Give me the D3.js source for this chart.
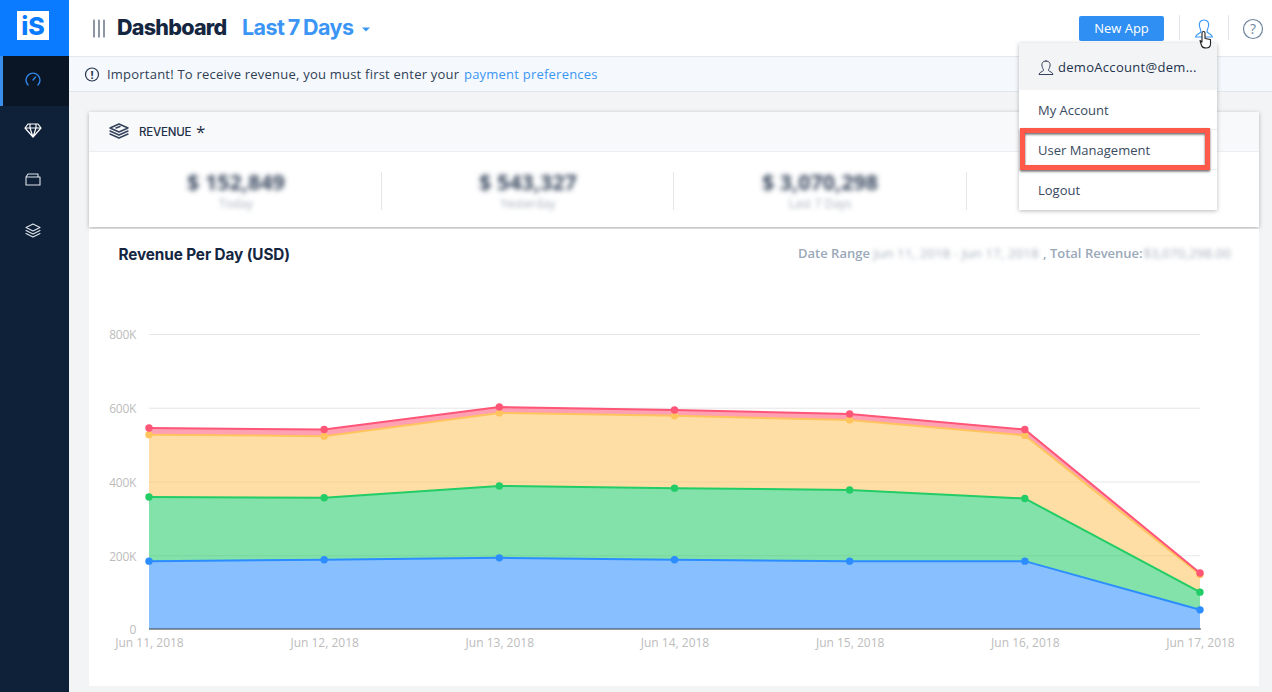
<!DOCTYPE html>
<html>

<head>
  <meta charset="UTF-8">
  <title>Dashboard - Revenue Per Day</title>
  <script src="https://d3js.org/d3.v7.min.js"></script>
  <style>
    html, body { margin: 0; padding: 0; background: #f3f4f6; overflow: hidden; }
    svg { display: block; font-family: "Open Sans", sans-serif; }
    .axis path, .axis line { display: none; }
    .axis text { font-family: "Open Sans", sans-serif; font-size: 12px; fill: #bcbcbc; }
    .grid line { stroke: #e7e7e7; }
    .grid path { display: none; }
    .soft { filter: url(#blurBig); }
    .softer { filter: url(#blurSmall); }
  </style>
</head>

<body>
  <div id="chart"></div>
  <script>
    // Chart data (each series is its own band in USD thousands)
    var days = ["Jun 11, 2018", "Jun 12, 2018", "Jun 13, 2018", "Jun 14, 2018", "Jun 15, 2018", "Jun 16, 2018", "Jun 17, 2018"];
    var seriesNames = ["blue", "green", "orange", "red"];
    var blueValues = [184, 188, 193, 188, 184, 184, 52];
    var greenValues = [174, 168, 195, 194, 193, 170, 48];
    var orangeValues = [169, 167, 198, 196, 190, 171, 48];
    var redValues = [18, 18, 16, 16, 16, 16, 4];
    var seriesColors = ["#2b8dff", "#22cc66", "#ffc45e", "#ff5577"];
    var yTicks = [0, 200, 400, 600, 800];

    var svg = d3.select("#chart").append("svg")
      .attr("width", 1272)
      .attr("height", 692);

    var defs = svg.append("defs");
    defs.append("filter").attr("id", "blurBig").attr("x", "-10%").attr("y", "-50%").attr("width", "120%").attr("height", "200%")
      .append("feGaussianBlur").attr("stdDeviation", 2.8);
    defs.append("filter").attr("id", "blurSmall").attr("x", "-10%").attr("y", "-50%").attr("width", "120%").attr("height", "200%")
      .append("feGaussianBlur").attr("stdDeviation", 2);
    var shadow = defs.append("filter").attr("id", "shadow").attr("x", "-10%").attr("y", "-10%").attr("width", "120%").attr("height", "120%");
    shadow.append("feDropShadow").attr("dx", 0).attr("dy", 1).attr("stdDeviation", 2).attr("flood-color", "#000").attr("flood-opacity", 0.28);
    var hardShadow = defs.append("filter").attr("id", "hardShadow").attr("x", "-10%").attr("y", "-20%").attr("width", "120%").attr("height", "140%");
    hardShadow.append("feDropShadow").attr("dx", 0).attr("dy", 1.5).attr("stdDeviation", 1.2).attr("flood-color", "#000").attr("flood-opacity", 0.6);

    function box(x, y, w, h, fill) {
      return svg.append("rect").attr("x", x).attr("y", y).attr("width", w).attr("height", h).attr("fill", fill);
    }

    function label(x, y, str, size, color, weight) {
      return svg.append("text").attr("x", x).attr("y", y).text(str)
        .attr("font-size", size).attr("fill", color).attr("font-weight", weight || 400);
    }

    function icon(x, y, d, color, width) {
      return svg.append("path").attr("transform", "translate(" + x + "," + y + ")").attr("d", d)
        .attr("fill", "none").attr("stroke", color).attr("stroke-width", width || 1.2)
        .attr("stroke-linejoin", "round").attr("stroke-linecap", "round");
    }

    // Page chrome
    box(69, 0, 1203, 56, "#ffffff");
    box(69, 56, 1203, 1, "#e4e7ec");
    box(69, 57, 1203, 34, "#f5f9fd");
    box(69, 91, 1203, 1, "#e3e7ec");

    // Sidebar
    box(0, 0, 69, 692, "#0f2039");
    box(0, 0, 69, 56, "#0a7bff");
    box(3, 56, 66, 50, "#0a1626");
    box(0, 56, 3, 50, "#3a8fee");
    box(17, 11, 32, 29, "#ffffff");
    label(33, 35, "iS", 25, "#0a7bff", 800).attr("text-anchor", "middle").attr("font-family", "Inter");
    icon(33, 80, "M-5 5A7 7 0 1 1 5 5M0 0L2.5-3", "#2f86e6", 1.4);
    icon(33, 130, "M-5-6H5L8-2L0 7L-8-2ZM-8-2H8M-3-6L-3-2L0 7L3-2L3-6", "#ffffff", 1.2);
    icon(33, 180, "M-7-3V5H7V-3ZM-7-3L-5-6H5V-3", "#dfe4ea", 1.1);
    icon(33, 230, "M0-6L7-2.5L0 1L-7-2.5ZM-7 0.5L0 4L7 0.5M-7 3.5L0 7L7 3.5", "#dfe4ea", 1.1);

    // Header
    icon(94, 20, "M0 0V17M5 0V17M10 0V17", "#33415a", 1.1);
    label(117, 35, "Dashboard", 21.5, "#152641", 800).attr("font-family", "Inter").attr("letter-spacing", -0.75);
    label(242, 35, "Last 7 Days", 21.5, "#3b95f4", 700).attr("font-family", "Inter").attr("letter-spacing", -0.55).attr("word-spacing", -1.2);
    svg.append("path").attr("d", "M362 27.5H370L366 31.5Z").attr("fill", "#3b95f4");
    box(1079, 16, 85, 25, "#2f8ff3").attr("rx", 2);
    label(1121.5, 33, "New App", 13, "#ffffff", 400).attr("text-anchor", "middle");
    box(1179, 15, 1, 25, "#e2e5e9");
    box(1228, 15, 1, 25, "#e2e5e9");
    icon(1204, 20, "M0 0C-4 0-5 3-4.5 6C-4 9-3 10-3 12C-5 14-8 14-8.5 17H8.5C8 14 5 14 3 12C3 10 4 9 4.5 6C5 3 4 0 0 0Z", "#3b95f4", 1.1);
    svg.append("circle").attr("cx", 1253).attr("cy", 29).attr("r", 9.5).attr("fill", "none").attr("stroke", "#70859e").attr("stroke-width", 1.2);
    label(1253, 34, "?", 14, "#70859e").attr("text-anchor", "middle");

    // Notice banner
    svg.append("circle").attr("cx", 92).attr("cy", 74.5).attr("r", 6.5).attr("fill", "none").attr("stroke", "#27364e").attr("stroke-width", 1.2);
    label(92, 79, "!", 11, "#27364e", 700).attr("text-anchor", "middle");
    label(107, 79, "Important! To receive revenue, you must first enter your", 13, "#2f3e55", 400).attr("letter-spacing", 0.22);
    label(464, 79, "payment preferences", 13, "#3b95f4", 400).attr("letter-spacing", 0.22);

    // Revenue card
    box(89, 112, 1170, 115, "#ffffff").attr("filter", "url(#shadow)");
    box(89, 112, 1170, 39, "#f8f9fb");
    box(89, 151, 1170, 1, "#eceef1");
    icon(119, 130, "M-9-2L0-6L9-2L0 2ZM-9 1L0 5L9 1M-9 4L0 8L9 4M-3-2L1-3.5", "#33415a", 1.4);
    label(139, 136, "REVENUE", 11.5, "#1f2f48", 500).attr("font-family", "Inter").attr("letter-spacing", -0.2);
    label(196, 138, "*", 17, "#1f2f48", 400);
    [381, 673, 966].forEach(function (xPos) { box(xPos, 172, 1, 38, "#e4e6ea"); });
    label(236, 190, "$ 152,849", 21.5, "#3a4a60", 700).attr("text-anchor", "middle").attr("class", "soft");
    label(236, 208, "Today", 12, "#a8b2bd").attr("text-anchor", "middle").attr("class", "softer");
    label(528, 190, "$ 543,327", 21.5, "#3a4a60", 700).attr("text-anchor", "middle").attr("class", "soft");
    label(528, 208, "Yesterday", 12, "#a8b2bd").attr("text-anchor", "middle").attr("class", "softer");
    label(820, 190, "$ 3,070,298", 21.5, "#3a4a60", 700).attr("text-anchor", "middle").attr("class", "soft");
    label(820, 208, "Last 7 Days", 12, "#a8b2bd").attr("text-anchor", "middle").attr("class", "softer");

    // Chart card
    box(89, 229, 1170, 457, "#ffffff");
    label(118.5, 260, "Revenue Per Day (USD)", 15.3, "#152641", 700).attr("font-family", "Inter").attr("letter-spacing", -0.1);
    label(798, 258, "Date Range", 13, "#9aa8b8", 600);
    label(956, 258, "Jun 11, 2018 - Jun 17, 2018", 13.5, "#a4afbb").attr("text-anchor", "middle").attr("class", "softer");
    label(1043, 258, ", Total Revenue:", 13, "#9aa8b8", 600);
    label(1187, 258, "$3,070,298.00", 13.5, "#a4afbb").attr("text-anchor", "middle").attr("class", "softer");

    // Scales
    var x = d3.scalePoint().domain(days).range([149, 1200]);
    var y = d3.scaleLinear().domain([0, 800]).range([629, 334]);

    svg.append("g").attr("class", "grid")
      .attr("transform", "translate(149,0)")
      .call(d3.axisRight(y).tickValues(yTicks).tickSize(1051).tickFormat(""));

    // Stack the bands
    var rows = days.map(function (day, i) {
      return { day: day, blue: blueValues[i], green: greenValues[i], orange: orangeValues[i], red: redValues[i] };
    });
    var stacked = d3.stack().keys(seriesNames)(rows);

    var area = d3.area()
      .x(function (d) { return x(d.data.day); })
      .y0(function (d) { return y(d[0]); })
      .y1(function (d) { return y(d[1]); });
    var line = d3.line()
      .x(function (d) { return x(d.data.day); })
      .y(function (d) { return y(d[1]); });

    svg.selectAll(".band")
      .data(stacked)
      .enter().append("path")
      .attr("class", "band")
      .attr("d", area)
      .attr("fill", function (d, i) { return seriesColors[i]; })
      .attr("fill-opacity", 0.56);

    svg.selectAll(".edge")
      .data(stacked)
      .enter().append("path")
      .attr("class", "edge")
      .attr("d", line)
      .attr("fill", "none")
      .attr("stroke", function (d, i) { return seriesColors[i]; })
      .attr("stroke-width", 2);

    stacked.forEach(function (s, i) {
      svg.selectAll(".dot" + i)
        .data(s)
        .enter().append("circle")
        .attr("class", "dot" + i)
        .attr("cx", function (d) { return x(d.data.day); })
        .attr("cy", function (d) { return y(d[1]); })
        .attr("r", 3.7)
        .attr("fill", seriesColors[i]);
    });

    // Axes
    svg.append("g").attr("class", "axis")
      .attr("transform", "translate(0,629)")
      .call(d3.axisBottom(x).tickSize(0).tickPadding(9));
    svg.append("line").attr("x1", 149).attr("x2", 1201).attr("y1", 629).attr("y2", 629)
      .attr("stroke", "#3f444c").attr("stroke-width", 1.2);

    svg.append("g").attr("class", "axis")
      .attr("transform", "translate(136,1)")
      .style("letter-spacing", "-0.3px")
      .call(d3.axisLeft(y).tickValues(yTicks).tickSize(0).tickPadding(0)
        .tickFormat(function (d) { return d === 0 ? "0" : d + "K"; }));

    // Account dropdown
    box(1019, 43, 198, 167, "#ffffff").attr("filter", "url(#shadow)");
    box(1019, 43, 198, 47, "#f3f4f6");
    box(1019, 129, 198, 1, "#eceef1");
    box(1019, 169, 198, 1, "#eceef1");
    icon(1046, 61, "M0 0C-3.5 0-4.5 2.5-4 5C-3.5 7.5-2.5 8-2.5 9.5C-4 11-6.5 11-7 13.5H7C6.5 11 4 11 2.5 9.5C2.5 8 3.5 7.5 4 5C4.5 2.5 3.5 0 0 0Z", "#33415a", 1);
    label(1058, 71.5, "demoAccount@dem...", 13, "#22324b", 500).attr("letter-spacing", 0.3);
    label(1038, 115, "My Account", 13, "#3a4a60");
    label(1038, 155, "User Management", 13, "#3a4a60");
    label(1038, 195, "Logout", 13, "#3a4a60");
    box(1022.5, 130.5, 185, 37, "none")
      .attr("stroke", "#ff5a4a").attr("stroke-width", 5).attr("filter", "url(#hardShadow)");

    // Hand cursor sits above the dropdown
    icon(1204, 39, "M-2-6V3L-4 1.5L-2.5 6.5C-2 8 0 9 2 9C5 9 6.5 7.5 6.5 5V0.5L1 -0.5V-6C1-8-2-8-2-6Z", "#222222", 1.1).attr("fill", "#ffffff");
  </script>
</body>
